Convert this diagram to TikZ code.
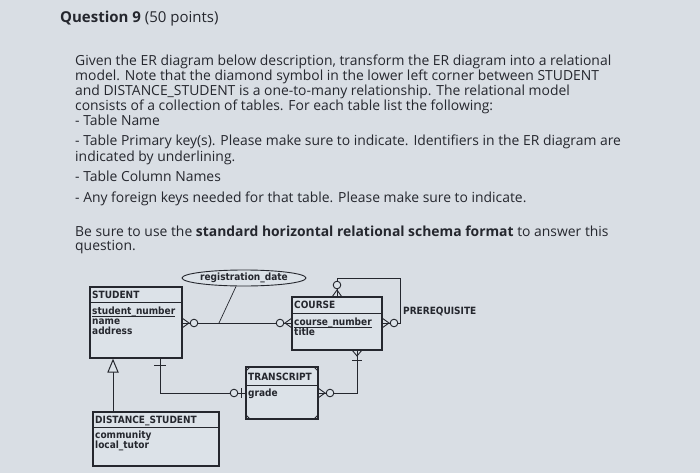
\documentclass[tikz,border=0pt]{standalone}
\usepackage{fontspec}
\setmainfont{Open Sans}
\newfontfamily\erfont{DejaVu Sans Condensed}
\usetikzlibrary{shapes.geometric}
\definecolor{bg}{HTML}{D9DEE4}
\definecolor{ink}{HTML}{25272E}
\definecolor{boxfill}{HTML}{DCE2E8}
\tikzset{
  para/.style={anchor=base west,inner sep=0pt,text=ink,font=\fontsize{13.9}{15}\selectfont},
  ent/.style={draw=ink,line width=1.1pt,fill=boxfill},
  lbl/.style={anchor=base west,inner sep=0pt,text=ink,font=\erfont\bfseries\fontsize{10}{10}\selectfont},
  ln/.style={draw=ink,line width=1pt},
}
\begin{document}
\begin{tikzpicture}[x=1pt,y=-1pt]
\useasboundingbox (0,0) rectangle (700,473);
\fill[bg] (0,0) rectangle (700,473);
\node[para,font=\fontsize{15}{16}\selectfont] (q) at (60,23) {\textbf{Question 9} (50 points)};
\node[para] (l1) at (75,66) {Given the ER diagram below description, transform the ER diagram into a relational};
\node[para] (l2) at (75,81) {model. Note that the diamond symbol in the lower left corner between STUDENT};
\node[para] (l3) at (75,96) {and DISTANCE\_STUDENT is a one-to-many relationship. The relational model};
\node[para] (l4) at (75,111) {consists of a collection of tables. For each table list the following:};
\node[para] (l5) at (75,126) {- Table Name};
\node[para] (l6) at (75,146) {- Table Primary key(s). Please make sure to indicate. Identifiers in the ER diagram are};
\node[para] (l7) at (75,161) {indicated by underlining.};
\node[para] (l8) at (75,181) {- Table Column Names};
\node[para] (l9) at (75,202) {- Any foreign keys needed for that table. Please make sure to indicate.};
\node[para] (l10) at (75,236) {Be sure to use the \textbf{standard horizontal relational schema format} to answer this};
\node[para] (l11) at (75,250) {question.};

% entities
\draw[ent] (90,287) rectangle (182,358); \draw[ln] (90,302)--(182,302);
\node[lbl] (st) at (92,298) {STUDENT};
\node[lbl] (st1) at (92,314) {student\_number};
\draw[ln,line width=0.8pt] (92,316.5) -- (st1.east |- 0,316.5);
\node[lbl] (st2) at (92,324) {name};
\node[lbl] (st3) at (92,334) {address};

\draw[ent] (292,297) rectangle (382,350); \draw[ln] (292,313)--(382,313);
\node[lbl] (co) at (294,308) {COURSE};
\node[lbl] (co1) at (294,325) {course\_number};
\draw[ln,line width=0.8pt] (294,327.5) -- (co1.east |- 0,327.5);
\node[lbl] (co2) at (294,335) {title};

\draw[ent] (246,367) rectangle (318,419); \draw[ln] (246,385)--(318,385);
\foreach \cx/\cy/\dx/\dy in {246/367/1/1,318/367/-1/1,246/419/1/-1,318/419/-1/-1}
  \draw[ln,line width=0.8pt] (\cx+\dx*4,\cy) -- (\cx,\cy+\dy*4);
\node[lbl] (tr) at (248,380) {TRANSCRIPT};
\node[lbl] (tr1) at (248,396) {grade};

\draw[ent] (93,412) rectangle (219,466); \draw[ln] (93,427)--(219,427);
\node[lbl] (ds) at (95,423) {DISTANCE\_STUDENT};
\node[lbl] (ds1) at (95,438) {community};
\node[lbl] (ds2) at (95,448) {local\_tutor};

\node[draw=ink,line width=0.9pt,fill=boxfill,ellipse,inner sep=0pt,minimum width=110pt,minimum height=16pt,font=\erfont\bfseries\fontsize{10}{10}\selectfont,text=ink] (rd) at (244,278) {registration\_date};
\node[lbl] (pr) at (403,314) {PREREQUISITE};

% connectors
\draw[ln] (182,323) -- (292,323);
\draw[ln,line width=0.7pt] ([xshift=-8pt]rd.south) -- (219,323);
\draw[ln] (337,297) -- (337,278) -- (400,278) -- (400,323) -- (382,323);
\draw[ln] (160,358) -- (160,393) -- (246,393);
\draw[ln] (318,393) -- (357,393) -- (357,350);
\draw[ln] (113,372) -- (113,412);
\draw[ln,fill=boxfill] (113,360) -- (108,372) -- (118,372) -- cycle;

% cardinalities
\begin{scope}[ln,line width=0.9pt]
\draw (182,318)--(189,323)--(182,328); \draw[fill=boxfill] (194,323) circle (3.8);
\draw (292,318)--(285,323)--(292,328); \draw[fill=boxfill] (280,323) circle (3.8);
\draw (382,318)--(389,323)--(382,328); \draw[fill=boxfill] (394,323) circle (3.8);
\draw (332,297)--(337,290)--(342,297); \draw[fill=boxfill] (337,285) circle (3.8);
\draw (154,365)--(166,365);
\draw (241,388)--(241,398); \draw[fill=boxfill] (234,393) circle (3.8);
\draw (318,388)--(325,393)--(318,398); \draw[fill=boxfill] (330,393) circle (3.8);
\draw (352,350)--(357,356)--(362,350); \draw (352,360)--(362,360);
\end{scope}
\end{tikzpicture}
\end{document}
